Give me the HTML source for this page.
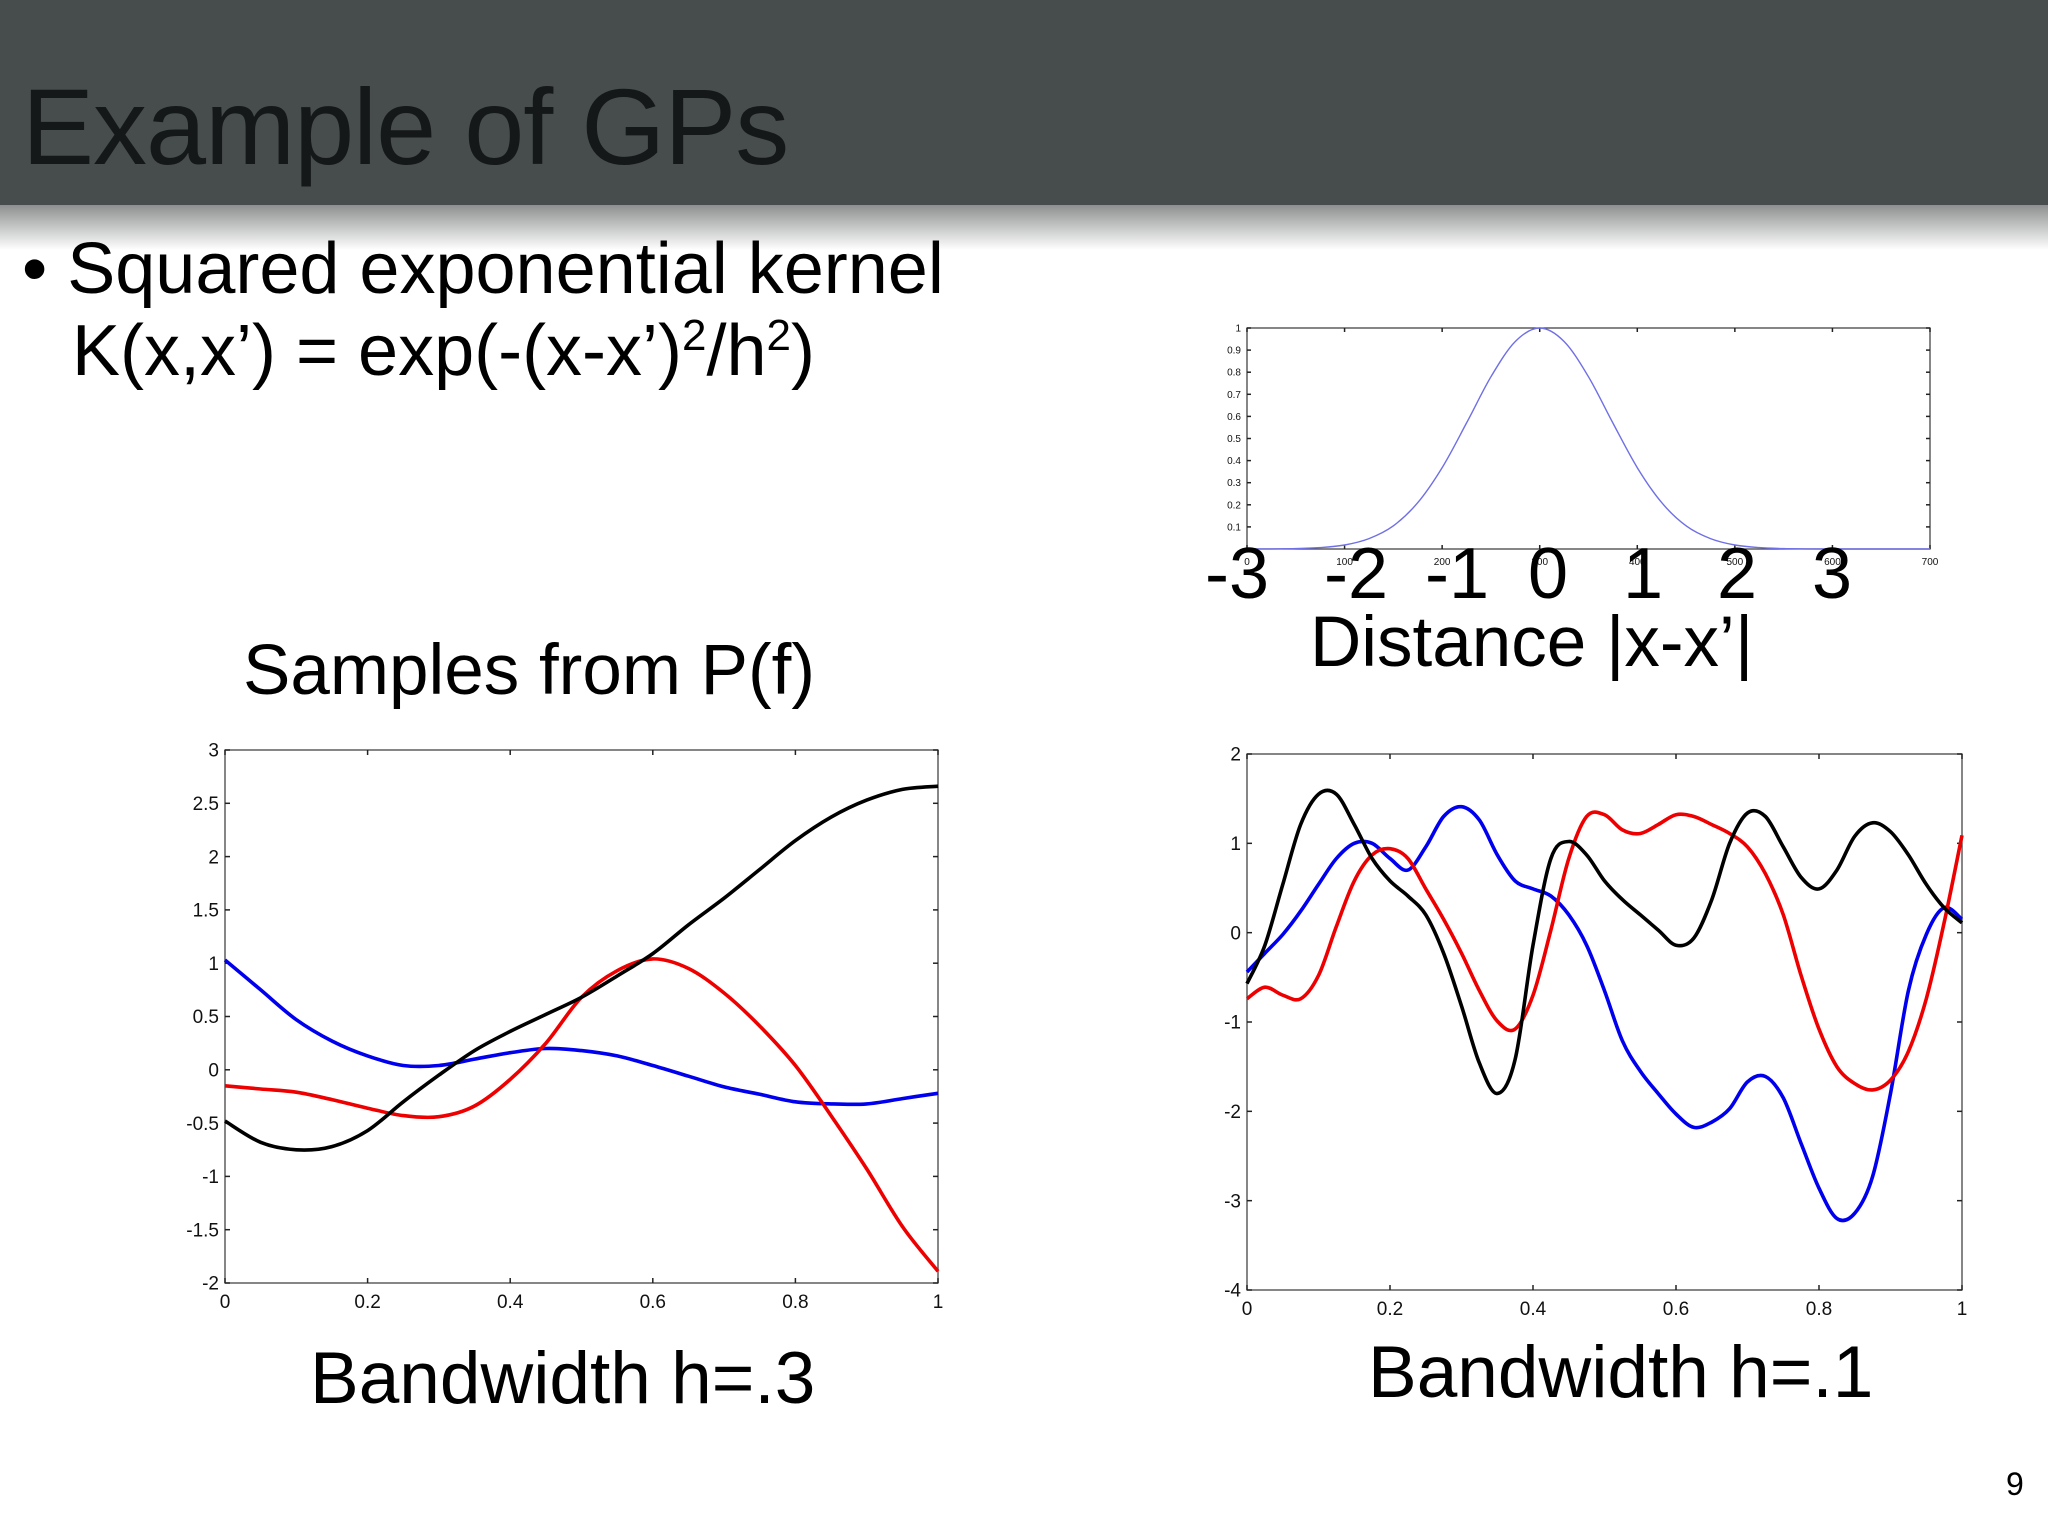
<!DOCTYPE html>
<html><head><meta charset="utf-8"><style>
html,body{margin:0;padding:0;width:2048px;height:1536px;overflow:hidden;background:#fff;font-family:"Liberation Sans",sans-serif;}
.abs{position:absolute;white-space:nowrap;}
#hdr{position:absolute;left:0;top:0;width:2048px;height:205px;background:#474c4c;}
#shade{position:absolute;left:0;top:205px;width:2048px;height:45px;background:linear-gradient(#8e9090,#fff);}
</style></head><body>
<div id="hdr"></div>
<div id="shade"></div>
<div class="abs" style="left:22px;top:64px;font-size:108px;color:#151818;letter-spacing:-1px;">Example of GPs</div>
<div class="abs" style="left:22px;top:228px;font-size:72px;color:#000;">• Squared exponential kernel</div>
<div class="abs" style="left:72px;top:310px;font-size:72px;color:#000;">K(x,x’) = exp(-(x-x’)<sup style="font-size:44px">2</sup>/h<sup style="font-size:44px">2</sup>)</div>
<div class="abs" style="left:243px;top:630px;font-size:71px;">Samples from P(f)</div>
<div class="abs" style="left:1310px;top:602px;font-size:71px;">Distance |x-x’|</div>
<div class="abs" style="left:310px;top:1337px;font-size:73px;">Bandwidth h=.3</div>
<div class="abs" style="left:1368px;top:1331px;font-size:73px;">Bandwidth h=.1</div>
<div class="abs" style="left:2006px;top:1466px;font-size:32px;">9</div>
<svg id="svg" width="2048" height="1536" style="position:absolute;left:0;top:0;"></svg>
<script>
const kernelX=[0,25,50,75,100,125,150,175,200,225,250,275,300,325,350,375,400,425,450,475,500,525,550,575,600,625,650,675,700];
const kernelY=[0.0001,0.0005,0.0019,0.0063,0.018,0.047,0.105,0.21,0.368,0.57,0.779,0.939,1,0.939,0.779,0.57,0.368,0.21,0.105,0.047,0.018,0.0063,0.0019,0.0005,0.0001,0,0,0,0];
const kernelXTicks=[0,100,200,300,400,500,600,700];
const kernelYTicks=[0.1,0.2,0.3,0.4,0.5,0.6,0.7,0.8,0.9,1];
const distLabels=["-3","-2","-1","0","1","2","3"];
const distPos=[1237,1356,1457,1548,1643,1737,1832];

const xA=[0,.05,.1,.15,.2,.25,.3,.35,.4,.45,.5,.55,.6,.65,.7,.75,.8,.85,.9,.95,1];
const blueA=[1.03,0.75,0.47,0.27,0.13,0.04,0.04,0.1,0.16,0.2,0.18,0.13,0.04,-0.06,-0.16,-0.23,-0.3,-0.32,-0.32,-0.27,-0.22];
const redA=[-0.15,-0.18,-0.21,-0.28,-0.36,-0.43,-0.44,-0.34,-0.09,0.25,0.68,0.93,1.04,0.95,0.72,0.41,0.04,-0.43,-0.93,-1.47,-1.89];
const blackA=[-0.48,-0.68,-0.75,-0.72,-0.57,-0.3,-0.05,0.18,0.36,0.52,0.68,0.88,1.09,1.36,1.61,1.88,2.15,2.37,2.53,2.63,2.66];
const yTicksA=[-2,-1.5,-1,-0.5,0,0.5,1,1.5,2,2.5,3];

const xB=[0,.025,.05,.075,.1,.125,.15,.175,.2,.225,.25,.275,.3,.325,.35,.375,.4,.425,.45,.475,.5,.525,.55,.575,.6,.625,.65,.675,.7,.725,.75,.775,.8,.825,.85,.875,.9,.925,.95,.975,1];
const blackB=[-0.57,-0.14,0.54,1.21,1.55,1.55,1.21,0.83,0.58,0.41,0.2,-0.23,-0.82,-1.46,-1.8,-1.42,-0.14,0.83,1.02,0.87,0.58,0.37,0.2,0.03,-0.14,-0.06,0.37,1.0,1.34,1.3,0.96,0.62,0.49,0.7,1.08,1.23,1.13,0.87,0.54,0.28,0.11];
const blueB=[-0.44,-0.23,-0.02,0.24,0.54,0.83,1.0,1.0,0.83,0.7,0.96,1.3,1.41,1.26,0.87,0.58,0.49,0.41,0.2,-0.14,-0.65,-1.21,-1.55,-1.8,-2.03,-2.18,-2.12,-1.97,-1.67,-1.61,-1.85,-2.36,-2.86,-3.2,-3.14,-2.73,-1.8,-0.65,-0.02,0.28,0.15];
const redB=[-0.74,-0.61,-0.7,-0.74,-0.48,0.07,0.58,0.87,0.94,0.83,0.49,0.15,-0.23,-0.65,-0.99,-1.08,-0.7,0.03,0.83,1.3,1.32,1.15,1.11,1.21,1.32,1.3,1.21,1.11,0.96,0.66,0.2,-0.48,-1.08,-1.5,-1.69,-1.76,-1.65,-1.33,-0.74,0.11,1.09];
const yTicksB=[-4,-3,-2,-1,0,1,2];
const xTicks01=[0,0.2,0.4,0.6,0.8,1];

const NS="http://www.w3.org/2000/svg";
const svg=document.getElementById('svg');
function mk(tag,attrs,parent){const e=document.createElementNS(NS,tag);for(const k in attrs)e.setAttribute(k,attrs[k]);(parent||svg).appendChild(e);return e;}
function lin(d0,d1,p0,p1){return v=>p0+(v-d0)/(d1-d0)*(p1-p0);}
function smooth(pts){let d='M'+pts[0][0].toFixed(1)+','+pts[0][1].toFixed(1);
 for(let i=0;i<pts.length-1;i++){const p0=pts[Math.max(0,i-1)],p1=pts[i],p2=pts[i+1],p3=pts[Math.min(pts.length-1,i+2)];
 const c1=[p1[0]+(p2[0]-p0[0])/6,p1[1]+(p2[1]-p0[1])/6],c2=[p2[0]-(p3[0]-p1[0])/6,p2[1]-(p3[1]-p1[1])/6];
 d+='C'+c1.map(v=>v.toFixed(1)).join(',')+' '+c2.map(v=>v.toFixed(1)).join(',')+' '+p2[0].toFixed(1)+','+p2[1].toFixed(1);}return d;}

function axesBox(g,L,R,T,B,xs,ys,xt,yt,fs,xl,yl,tl){
 mk('rect',{x:L,y:T,width:R-L,height:B-T,fill:'none',stroke:'#444','stroke-width':1.3},g);
 xt.forEach((v,i)=>{const x=xs(v);
  mk('line',{x1:x,y1:B,x2:x,y2:B-tl,stroke:'#222','stroke-width':1.5},g);
  mk('line',{x1:x,y1:T,x2:x,y2:T+tl,stroke:'#222','stroke-width':1.5},g);
  const t=mk('text',{x:x,y:B+fs+6,'font-size':fs,'text-anchor':'middle',fill:'#111','font-family':'Liberation Sans, sans-serif'},g);
  
  
  t.textContent=xl[i];});
 yt.forEach((v,i)=>{const y=ys(v);
  mk('line',{x1:L,y1:y,x2:L+tl,y2:y,stroke:'#222','stroke-width':1.5},g);
  mk('line',{x1:R,y1:y,x2:R-tl,y2:y,stroke:'#222','stroke-width':1.5},g);
  const t=mk('text',{x:L-6,y:y+fs*0.35,'font-size':fs,'text-anchor':'end',fill:'#111','font-family':'Liberation Sans, sans-serif'},g);
  
  
  t.textContent=yl[i];});
}
function series(g,xsArr,ysArr,xs,ys,color,w,name){
 const p=mk('path',{d:smooth(xsArr.map((v,i)=>[xs(v),ys(ysArr[i])])),fill:'none',stroke:color,'stroke-width':w,'stroke-linejoin':'round'},g);
 
 
}

{const g=mk('g',{});
 
 
 const xs=lin(0,700,1247,1930),ys=lin(0,1,549,328);
 axesBox(g,1247,1930,328,549,xs,ys,kernelXTicks,kernelYTicks,10,kernelXTicks.map(String),kernelYTicks.map(v=>v===1?'1':String(v)),4);
 series(g,kernelX,kernelY,xs,ys,'#6f6fe6',1.4,'kernel-curve');
 distLabels.forEach((s,i)=>{const t=mk('text',{x:distPos[i],y:598,'font-size':72,'text-anchor':'middle',fill:'#000','font-family':'Liberation Sans, sans-serif'},g);
  
  
  t.textContent=s;});
}
{const g=mk('g',{});
 
 
 const xs=lin(0,1,225,938),ys=lin(-2,3,1283,750);
 axesBox(g,225,938,750,1283,xs,ys,xTicks01,yTicksA,19,xTicks01.map(String),yTicksA.map(String),5);
 series(g,xA,blueA,xs,ys,'#0000ee',3.6,'blue-sample-h03');
 series(g,xA,redA,xs,ys,'#ee0000',3.6,'red-sample-h03');
 series(g,xA,blackA,xs,ys,'#000',3.6,'black-sample-h03');
}
{const g=mk('g',{});
 
 
 const xs=lin(0,1,1247,1962),ys=lin(-4,2,1290,754);
 axesBox(g,1247,1962,754,1290,xs,ys,xTicks01,yTicksB,19,xTicks01.map(String),yTicksB.map(String),5);
 series(g,xB,blueB,xs,ys,'#0000ee',3.6,'blue-sample-h01');
 series(g,xB,redB,xs,ys,'#ee0000',3.6,'red-sample-h01');
 series(g,xB,blackB,xs,ys,'#000',3.6,'black-sample-h01');
}
</script>
</body></html>
